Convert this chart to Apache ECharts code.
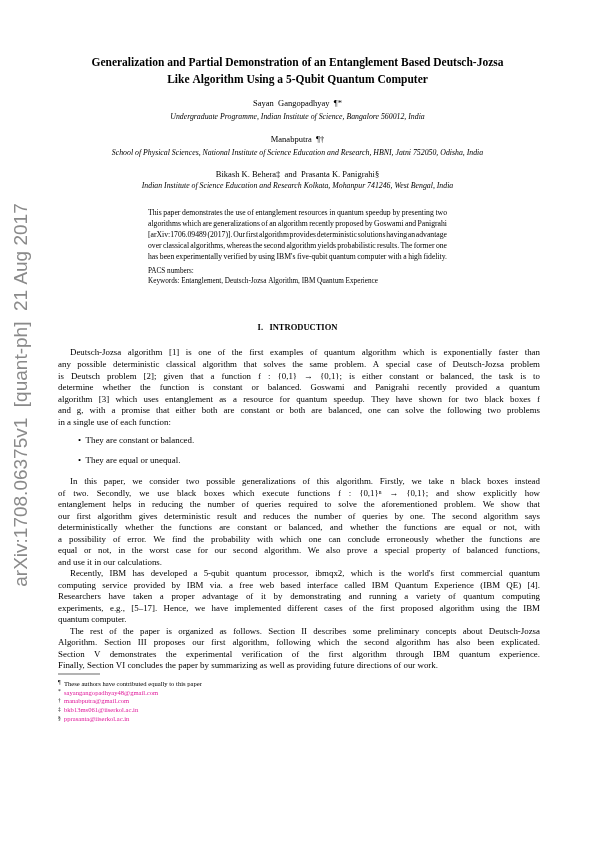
<!DOCTYPE html>
<html><head><meta charset="utf-8">
<script src="https://cdn.jsdelivr.net/npm/echarts@6/dist/echarts.min.js"></script>
<style>html,body{margin:0;padding:0;background:#fff}#c{width:595px;height:842px}</style>
</head><body><div id="c"></div>
<script>
const titleLines = ["Generalization and Partial Demonstration of an Entanglement Based Deutsch-Jozsa","Like Algorithm Using a 5-Qubit Quantum Computer"];
const authorBlocks = [
 ["Sayan  Gangopadhyay  ¶*", "Undergraduate Programme, Indian Institute of Science, Bangalore 560012, India"],
 ["Manabputra  ¶†", "School of Physical Sciences, National Institute of Science Education and Research, HBNI, Jatni 752050, Odisha, India"],
 ["Bikash K. Behera‡  and  Prasanta K. Panigrahi§", "Indian Institute of Science Education and Research Kolkata, Mohanpur 741246, West Bengal, India"]
];
const abstractLines = [
 "This paper demonstrates the use of entanglement resources in quantum speedup by presenting two",
 "algorithms which are generalizations of an algorithm recently proposed by Goswami and Panigrahi",
 "[arXiv:1706.09489 (2017)]. Our first algorithm provides deterministic solutions having an advantage",
 "over classical algorithms, whereas the second algorithm yields probabilistic results. The former one",
 "has been experimentally verified by using IBM's five-qubit quantum computer with a high fidelity."
];
const pacsLines = ["PACS numbers:","Keywords: Entanglement, Deutsch-Jozsa Algorithm, IBM Quantum Experience"];
// [type, text, justify] type 1 = indented, 2 = bullet
const bodyLines = [
 [1,"Deutsch-Jozsa algorithm [1] is one of the first examples of quantum algorithm which is exponentially faster than",1],
 [0,"any possible deterministic classical algorithm that solves the same problem. A special case of Deutsch-Jozsa problem",1],
 [0,"is Deutsch problem [2]; given that a function f : {0,1} → {0,1}; is either constant or balanced, the task is to",1],
 [0,"determine whether the function is constant or balanced. Goswami and Panigrahi recently provided a quantum",1],
 [0,"algorithm [3] which uses entanglement as a resource for quantum speedup. They have shown for two black boxes f",1],
 [0,"and g, with a promise that either both are constant or both are balanced, one can solve the following two problems",1],
 [0,"in a single use of each function:",0],
 [2,"•  They are constant or balanced.",0],
 [2,"•  They are equal or unequal.",0],
 [1,"In this paper, we consider two possible generalizations of this algorithm. Firstly, we take n black boxes instead",1],
 [0,"of two. Secondly, we use black boxes which execute functions f : {0,1}ⁿ → {0,1}; and show explicitly how",1],
 [0,"entanglement helps in reducing the number of queries required to solve the aforementioned problem. We show that",1],
 [0,"our first algorithm gives deterministic result and reduces the number of queries by one. The second algorithm says",1],
 [0,"deterministically whether the functions are constant or balanced, and whether the functions are equal or not, with",1],
 [0,"a possibility of error. We find the probability with which one can conclude erroneously whether the functions are",1],
 [0,"equal or not, in the worst case for our second algorithm. We also prove a special property of balanced functions,",1],
 [0,"and use it in our calculations.",0],
 [1,"Recently, IBM has developed a 5-qubit quantum processor, ibmqx2, which is the world's first commercial quantum",1],
 [0,"computing service provided by IBM via. a free web based interface called IBM Quantum Experience (IBM QE) [4].",1],
 [0,"Researchers have taken a proper advantage of it by demonstrating and running a variety of quantum computing",1],
 [0,"experiments, e.g., [5–17]. Hence, we have implemented different cases of the first proposed algorithm using the IBM",1],
 [0,"quantum computer.",0],
 [1,"The rest of the paper is organized as follows. Section II describes some preliminary concepts about Deutsch-Jozsa",1],
 [0,"Algorithm. Section III proposes our first algorithm, following which the second algorithm has also been explicated.",1],
 [0,"Section V demonstrates the experimental verification of the first algorithm through IBM quantum experience.",1],
 [0,"Finally, Section VI concludes the paper by summarizing as well as providing future directions of our work.",0]
];
const bodyY = [353,365,377,388,400,411,423,441,461,482,494,505,517,528,540,551,563,574,586,597,609,620,632,643,655,666];
const footnotes = [["¶","These authors have contributed equally to this paper",false],["*","sayangangopadhyay48@gmail.com",true],["†","manabputra@gmail.com",true],["‡","bkb13ms061@iiserkol.ac.in",true],["§","pprasanta@iiserkol.ac.in",true]];
const sidebar = "arXiv:1708.06375v1  [quant-ph]  21 Aug 2017";

const F = "'Liberation Serif', 'DejaVu Serif', serif";
const g = [];
const ctx = document.createElement('canvas').getContext('2d');
function mw(t,size){ctx.font=size+"px "+F;return ctx.measureText(t).width;}
function txt(x,y,t,o){g.push({type:'text',x:x,y:y,style:Object.assign({text:t,fontFamily:F,fontSize:9,fill:'#000',textVerticalAlign:'middle'},o||{})});}
function just(x0,x1,y,t,size,o){
  const words=t.split(/ +/);const tot=words.reduce((s,w)=>s+mw(w,size),0);
  const gap=(x1-x0-tot)/(words.length-1);let x=x0;
  words.forEach(w=>{txt(x,y,w,Object.assign({fontSize:size},o||{}));x+=mw(w,size)+gap;});
}
titleLines.forEach((t,i)=>txt(297.5,63+i*17,t,{fontSize:11.5,fontWeight:'bold',textAlign:'center'}));
const ay=[[104,117],[140,153],[175,186]];
authorBlocks.forEach((b,i)=>{txt(297.5,ay[i][0],b[0],{fontSize:8.5,textAlign:'center'});txt(297.5,ay[i][1],b[1],{fontSize:7.8,fontStyle:'italic',textAlign:'center'});});
abstractLines.forEach((t,i)=>just(148,447,213+i*11,t,7.7));
pacsLines.forEach((t,i)=>txt(148,271+i*10,t,{fontSize:7.2}));
txt(297.5,328,"I.   INTRODUCTION",{fontSize:8.5,fontWeight:'bold',textAlign:'center'});
bodyLines.forEach((l,i)=>{const x=l[0]===1?70:(l[0]===2?78:58);
  if(l[2]) just(x,540,bodyY[i],l[1],8.9); else txt(x,bodyY[i],l[1],{fontSize:8.9});});
g.push({type:'line',shape:{x1:58,y1:674,x2:100,y2:674},style:{stroke:'#000',lineWidth:0.6}});
footnotes.forEach((f,i)=>{txt(58,683+i*8.8,f[0],{fontSize:5.5});txt(64,684+i*8.8,f[1],{fontSize:6.6,fill:f[2]?'#e0189a':'#000'});});
g.push({type:'text',x:22,y:395,rotation:Math.PI/2,style:{text:sidebar,fontFamily:"'Liberation Sans', sans-serif",fontSize:19,fill:'#8a8a8a',textAlign:'center',textVerticalAlign:'middle'}});
const chart = echarts.init(document.getElementById('c'),null,{renderer:'canvas'});
chart.setOption({backgroundColor:'#fff',graphic:g});
</script></body></html>
